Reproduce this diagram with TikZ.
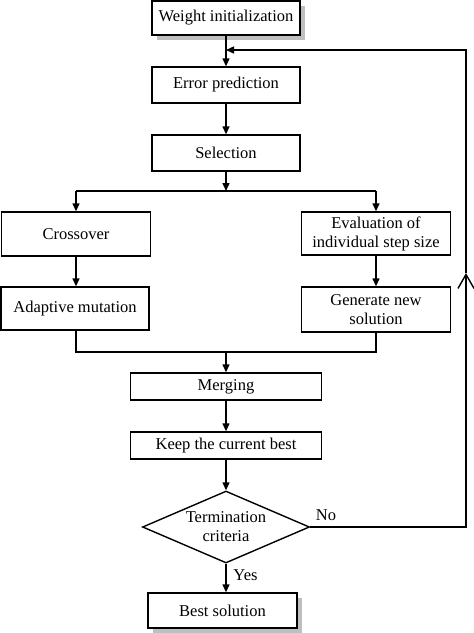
\documentclass[tikz,border=0pt]{standalone}
\usepackage{fontspec}
\setmainfont{Liberation Serif}
\usetikzlibrary{arrows.meta,shapes.geometric,shadows}

\tikzset{
  block/.style={draw, line width=1.4pt, fill=white, align=center, inner sep=2pt,
    font=\fontsize{16.5}{19}\selectfont},
  shadowed/.style={drop shadow={shadow xshift=5pt, shadow yshift=-5pt,
    fill=black!25, opacity=1}},
  decision/.style={block, diamond, aspect=2.3, inner sep=0pt,
    minimum width=167pt, minimum height=72pt},
  flow/.style={line width=1.4pt, -{Triangle[length=8pt,width=7pt]}},
  link/.style={line width=1.4pt},
  tag/.style={font=\fontsize{16.5}{19}\selectfont}
}

\begin{document}
\begin{tikzpicture}[x=1pt,y=-1pt]
\useasboundingbox (0,0) rectangle (474,633);
\node [block, shadowed, minimum width=148pt, minimum height=34pt] (init) at (226,18) {Weight initialization};
\node [block, minimum width=148pt, minimum height=36pt] (err) at (226,85) {Error prediction};
\node [block, minimum width=148pt, minimum height=36pt] (sel) at (226,153) {Selection};
\node [block, minimum width=149pt, minimum height=44pt] (cross) at (76,234) {Crossover};
\node [block, minimum width=149pt, minimum height=43pt] (eval) at (376,233.5) {Evaluation of\\individual step size};
\node [block, minimum width=148pt, minimum height=43pt] (adapt) at (75,308.5) {Adaptive mutation};
\node [block, minimum width=149pt, minimum height=45pt] (gen) at (376,309.5) {Generate new\\solution};
\node [block, minimum width=191pt, minimum height=27pt] (merge) at (226,386.5) {Merging};
\node [block, minimum width=191pt, minimum height=27pt] (keep) at (226,445.5) {Keep the current best};
\node [decision] (dia) at (226,527) {Termination\\criteria};
\node [block, shadowed, minimum width=149pt, minimum height=35pt] (best) at (222.5,610.5) {Best solution};
\coordinate (split) at (226,191);
\coordinate (join) at (226,352);
\coordinate (loop) at (226,50);
\coordinate (up) at (466,273);

\draw [flow] (init) -- (err);
\draw [flow] (err) -- (sel);
\draw [flow] (sel) -- (split);
\draw [link] (cross.north |- split) -- (eval.north |- split);
\draw [flow] (cross.north |- split) -- (cross);
\draw [flow] (eval.north |- split) -- (eval);
\draw [flow] (cross) -- (adapt.north -| cross);
\draw [flow] (eval) -- (gen);
\draw [link] (adapt.south -| cross) |- (join) -| (gen.south);
\draw [flow] (join) -- (merge);
\draw [flow] (merge) -- (keep);
\draw [flow] (keep) -- (dia);
\draw [flow] (dia.south) -- (dia.south |- best.north);
\draw [link, -{Straight Barb[length=14pt,width=16pt,line width=1.4pt]}] (dia.east) -| (up);
\draw [flow] (up) |- (loop);
\node [tag] (yes) at (245.5,575) {Yes};
\node [tag] (no) at (326,515) {No};
\end{tikzpicture}
\end{document}
